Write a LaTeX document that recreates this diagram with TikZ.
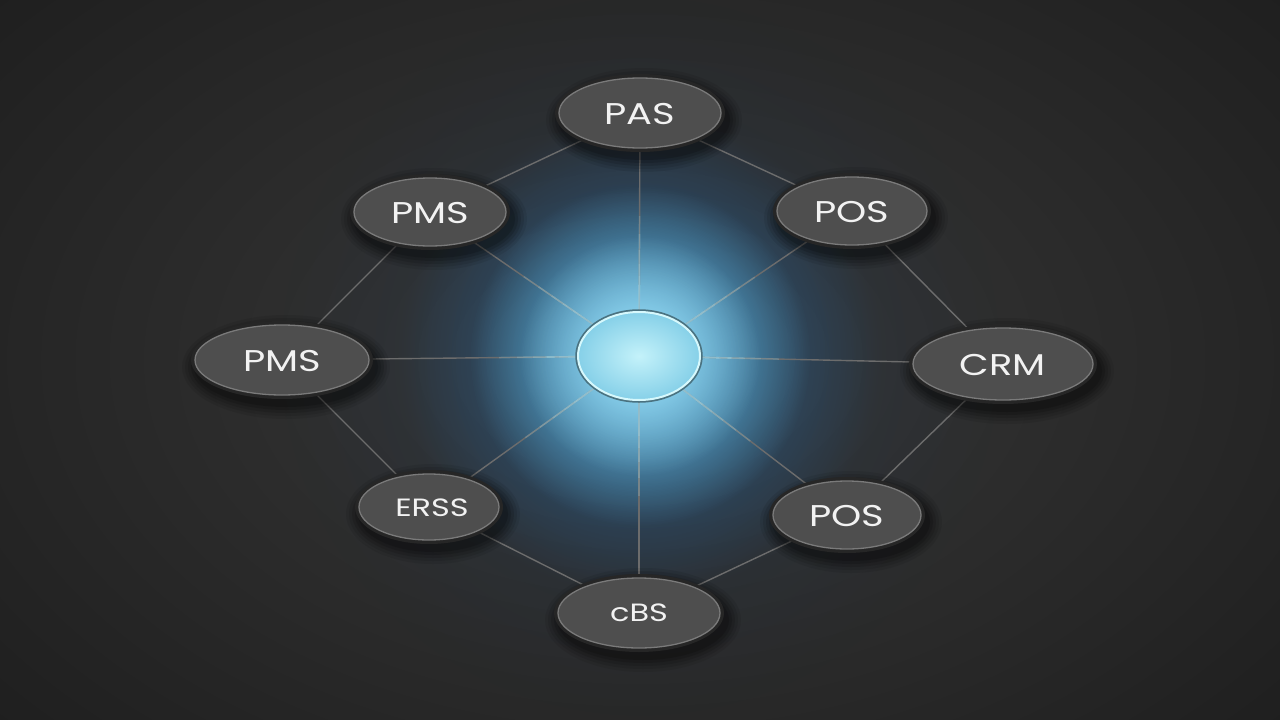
\documentclass[tikz,border=0pt]{standalone}
\usepackage{fontspec}
\setmainfont{Poppins}[FakeStretch=1.28]
\usetikzlibrary{fadings}
\definecolor{bgin}{HTML}{383838}
\definecolor{bgout}{HTML}{1E1E1E}
\definecolor{nodefill}{HTML}{4E4E4E}
\definecolor{ringdark}{HTML}{262626}
\definecolor{ringlight}{HTML}{7A7A7A}
\definecolor{linkcol}{HTML}{6C6C6C}
\definecolor{glowdeep}{HTML}{1A3A5C}
\definecolor{glowblue}{HTML}{2E8AD8}
\definecolor{glowcyan}{HTML}{6CCDF4}
\definecolor{glowcore}{HTML}{B8EEFC}
\definecolor{hubin}{HTML}{C4F2FA}
\definecolor{hubout}{HTML}{86D0E8}
\definecolor{hubring}{HTML}{D6F8FC}
\definecolor{spokelit}{HTML}{A8E6F8}
\definecolor{txt}{HTML}{F2F2F2}
\tikzfading[name=glowfade, inner color=transparent!0, outer color=transparent!100]
\tikzset{
  link/.style={draw=linkcol, line width=1.4pt},
  litlink/.style={draw=spokelit, line width=1.6pt},
  bigtxt/.style={text=txt, font=\fontsize{30}{34}\selectfont},
  smalltxt/.style={text=txt, font=\fontsize{25}{30}\selectfont},
}
\newcommand{\sysell}[5]{% name, x, y, rx, ry
  \foreach \d/\o in {13/0.07, 10/0.09, 7/0.11, 4/0.13, 1/0.15} {
    \fill[black, opacity=\o] (#2+4,#3+7) ellipse ({#4+\d} and {#5+\d});
  }
  \fill[ringdark] (#2,#3) ellipse ({#4} and {#5});
  \fill[nodefill] (#2,#3) ellipse ({#4-4} and {#5-4});
  \draw[ringlight, line width=1.3pt] (#2,#3) ellipse ({#4-4} and {#5-4});
  \coordinate (#1) at (#2,#3);
}
\begin{document}
\begin{tikzpicture}[x=1pt,y=-1pt]
\useasboundingbox (0,0) rectangle (1280,720);
% background vignette
\shade[inner color=bgin, outer color=bgout] (-250,-220) rectangle (1530,940);
% glow
\fill[glowdeep, opacity=0.35, path fading=glowfade] (640,356) circle (360);
\fill[glowblue, opacity=0.55, path fading=glowfade] (640,356) circle (240);
\fill[glowcyan, opacity=1, path fading=glowfade] (640,356) circle (170);
\fill[glowcore, opacity=0.7, path fading=glowfade] (640,356) circle (120);
% node coordinates (centers)
\coordinate (hubc) at (639,356);
\coordinate (pasc) at (640,113);
\coordinate (pmstc) at (430,212);
\coordinate (postc) at (852,211);
\coordinate (pmslc) at (282,360);
\coordinate (crmc) at (1003,364);
\coordinate (erssc) at (429,507);
\coordinate (posbc) at (847,515);
\coordinate (cbsc) at (639,613);
% connectors
\draw[link] (hubc) -- (pasc);
\draw[link] (hubc) -- (pmstc);
\draw[link] (hubc) -- (postc);
\draw[link] (hubc) -- (pmslc);
\draw[link] (hubc) -- (crmc);
\draw[link] (hubc) -- (erssc);
\draw[link] (hubc) -- (posbc);
\draw[link] (hubc) -- (cbsc);
\draw[link] (pasc) -- (pmstc);
\draw[link] (pasc) -- (postc);
\draw[link] (pmstc) -- (pmslc);
\draw[link] (postc) -- (crmc);
\draw[link] (pmslc) -- (erssc);
\draw[link] (crmc) -- (posbc);
\draw[link] (erssc) -- (cbsc);
\draw[link] (posbc) -- (cbsc);
% glow-lit part of the spokes
\foreach \r in {140,122,106,92,80} {
  \begin{scope}
    \clip (639,356) circle (\r);
    \foreach \t in {pasc,pmstc,postc,pmslc,crmc,erssc,posbc,cbsc}
      \draw[litlink, opacity=0.2] (hubc) -- (\t);
  \end{scope}
}
% outer nodes
\sysell{pas}{640}{113}{85}{39}
\sysell{pmst}{430}{212}{80}{38}
\sysell{post}{852}{211}{79}{38}
\sysell{pmsl}{282}{360}{91}{39}
\sysell{crm}{1003}{364}{94}{40}
\sysell{erss}{429}{507}{74}{37}
\sysell{posb}{847}{515}{78}{38}
\sysell{cbs}{639}{613}{85}{39}
% hub
\draw[hubout!55!black, line width=3.5pt] (639,356) ellipse (62 and 45);
\shade[inner color=hubin, outer color=hubout] (639,356) ellipse (61 and 44);
\draw[hubring, line width=2pt] (639,356) ellipse (61 and 44);
% labels
\node[bigtxt] (tpas) at (640,114) {PAS};
\node[bigtxt] (tpmst) at (430,213) {PMS};
\node[bigtxt] (tpost) at (852,212) {POS};
\node[bigtxt] (tpmsl) at (282,361) {PMS};
\node[bigtxt] (tcrm) at (1003,365) {CRM};
\node[smalltxt] (terss) at (432,508) {ERSS};
\node[bigtxt] (tposb) at (847,516) {POS};
\node[smalltxt] (tcbs) at (639,613) {cBS};
\end{tikzpicture}
\end{document}
